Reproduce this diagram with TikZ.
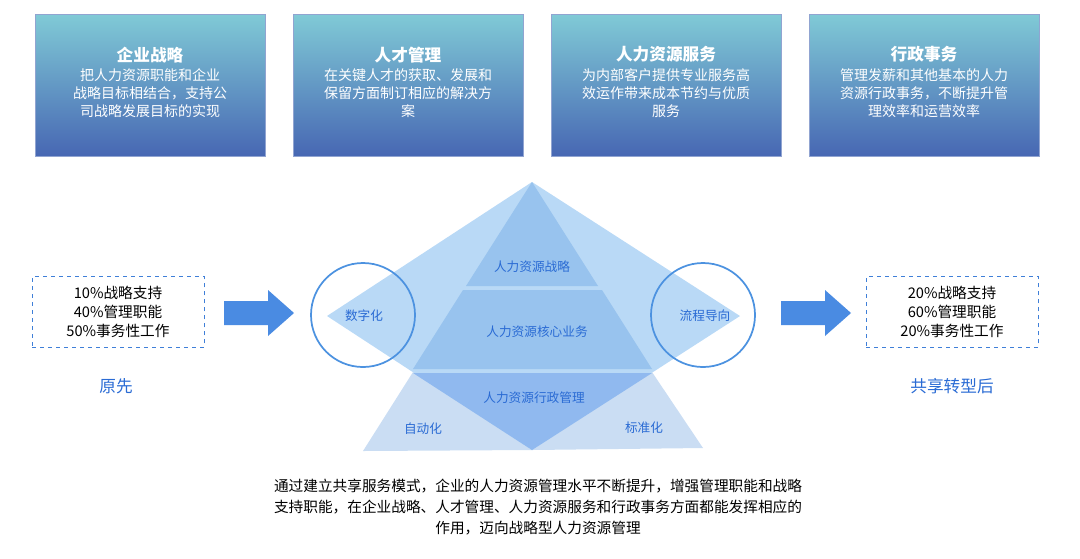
\documentclass[tikz,border=0pt]{standalone}
\usepackage{fontspec}
\setmainfont{Noto Sans CJK SC}
\begin{document}
\begin{tikzpicture}[x=0.75pt,y=-0.75pt,
  topbox/.style={minimum width=172.5pt,minimum height=106.5pt,inner sep=0pt,top color=topc,bottom color=botc,draw=botc!60},
  tt/.style={text=white,align=center,font=\fontsize{10.5}{13.5}\selectfont},
  pt/.style={text=txtb,font=\fontsize{9.5}{11}\selectfont},
  dbox/.style={draw=boxb,dashed,minimum width=129pt,minimum height=53pt,inner sep=0pt,align=center,font=\fontsize{11}{14}\selectfont},
  circ/.style={draw=circb,line width=1.3pt,circle,minimum size=78pt,inner sep=0pt}]
\definecolor{topc}{HTML}{80CAD6}
\definecolor{botc}{HTML}{4767B3}
\definecolor{kite}{HTML}{B9D9F6}
\definecolor{pyr}{HTML}{98C3EE}
\definecolor{low}{HTML}{CADDF3}
\definecolor{txtb}{HTML}{2A6BD4}
\definecolor{circb}{HTML}{4C92E0}
\definecolor{boxb}{HTML}{3F7FD8}
\definecolor{arr}{HTML}{4A8BE2}
\useasboundingbox (0,0) rectangle (1080,558);
% top boxes
\foreach \x/\n/\t/\b in {150/b1/企业战略/{把人力资源职能和企业\\战略目标相结合，支持公\\司战略发展目标的实现},408/b2/人才管理/{在关键人才的获取、发展和\\保留方面制订相应的解决方\\案},666/b3/人力资源服务/{为内部客户提供专业服务高\\效运作带来成本节约与优质\\服务},924/b4/行政事务/{管理发薪和其他基本的人力\\资源行政事务，不断提升管\\理效率和运营效率}}{
  \node[topbox] (\n) at (\x,85) {};
  \node[tt,anchor=north] at (\x,42) {{\fontsize{12.5}{15}\selectfont\bfseries \t}\\[1pt]\b};
}
% pyramid
\coordinate (ap) at (532,182);
\coordinate (lt) at (327,316);
\coordinate (rt) at (740,316);
\coordinate (bt) at (532,450);
\fill[low] (363,451) -- (413,372) -- (bt) -- cycle;
\fill[low] (652,372) -- (703,448) -- (bt) -- cycle;
\fill[kite] (ap) -- (lt) -- (bt) -- (rt) -- cycle;
\fill[pyr] (ap) -- (466,286) -- (598,286) -- cycle;
\fill[pyr] (463,290) -- (602,290) -- (652,369) -- (413,369) -- cycle;
\fill[pyr!95!blue] (413,373) -- (652,373) -- (bt) -- cycle;
\node[pt] (s1) at (532,267) {人力资源战略};
\node[pt] (s2) at (537,332) {人力资源核心业务};
\node[pt] (s3) at (534,398) {人力资源行政管理};
\node[pt] (s4) at (423,429) {自动化};
\node[pt] (s5) at (644,428) {标准化};
\node[circ] (c1) at (363,315) {};
\node[pt] at (364,316) {数字化};
\node[circ] (c2) at (703,315) {};
\node[pt] at (705,316) {流程导向};
% side boxes
\node[dbox] (l) at (118,312) {10\%战略支持\\40\%管理职能\\50\%事务性工作};
\node[dbox] (r) at (952,312) {20\%战略支持\\60\%管理职能\\20\%事务性工作};
\node[text=txtb,font=\fontsize{12.5}{15}\selectfont] (o) at (116,386) {原先};
\node[text=txtb,font=\fontsize{12.5}{15}\selectfont] (n) at (952,386) {共享转型后};
% arrows
\fill[arr] (224,301) -- (268,301) -- (268,290) -- (294,313) -- (268,336) -- (268,325) -- (224,325) -- cycle;
\fill[arr] (781,301) -- (825,301) -- (825,290) -- (851,313) -- (825,336) -- (825,325) -- (781,325) -- cycle;
% bottom text
\node[align=center,font=\fontsize{11}{15.5}\selectfont] (bt2) at (538,507) {通过建立共享服务模式，企业的人力资源管理水平不断提升，增强管理职能和战略\\支持职能，在企业战略、人才管理、人力资源服务和行政事务方面都能发挥相应的\\作用，迈向战略型人力资源管理};
\end{tikzpicture}
\end{document}
